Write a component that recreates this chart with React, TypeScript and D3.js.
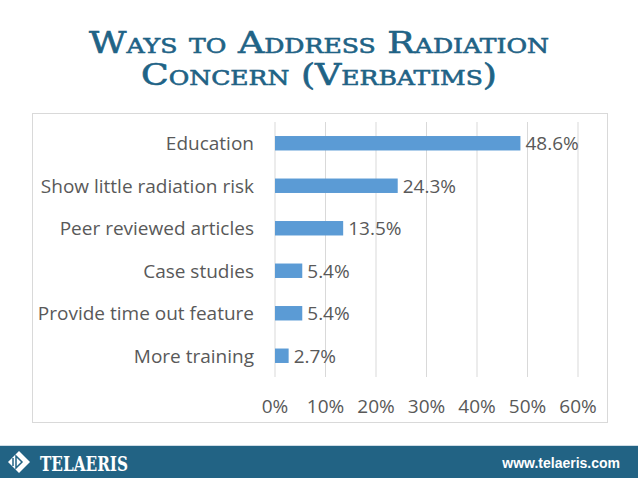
import React from "react";
import * as d3 from "d3";

const categories = [
  "Education",
  "Show little radiation risk",
  "Peer reviewed articles",
  "Case studies",
  "Provide time out feature",
  "More training",
];
const values = [48.6, 24.3, 13.5, 5.4, 5.4, 2.7];
const tickValues = [0, 10, 20, 30, 40, 50, 60];
const titleLines = ["Ways to Address Radiation", "Concern (Verbatims)"];

const W = 638;
const H = 478;

export default function App() {
  const x = d3.scaleLinear().domain([0, 60]).range([275, 578]);
  const y = d3.scaleBand<string>().domain(categories).range([122, 377]).paddingInner(0.66).paddingOuter(0.33);
  const font = "'Open Sans', sans-serif";
  const gray = "#595959";
  const fs = 19;
  return (
    <svg width={W} height={H} style={{ position: "absolute", left: 0, top: 0 }} xmlns="http://www.w3.org/2000/svg">
      <rect x={0} y={0} width={W} height={H} fill="#ffffff" />
      {titleLines.map((t, i) => (
        <text
          key={t}
          x={319}
          y={53 + i * 32}
          textAnchor="middle"
          fill="#1F6386"
          stroke="#1F6386"
          strokeWidth={0.6}
          fontFamily="'DejaVu Serif', serif"
          fontSize={29}
          style={{ fontVariant: "small-caps" }}
          textLength={i === 0 ? 460 : 356}
          lengthAdjust="spacingAndGlyphs"
        >
          {t}
        </text>
      ))}
      <rect x={32.5} y={113.5} width={575} height={309} fill="none" stroke="#D9D9D9" strokeWidth={1} />
      {tickValues.map((v) => (
        <line key={"g" + v} x1={x(v)} x2={x(v)} y1={122} y2={377} stroke="#D9D9D9" strokeWidth={1} />
      ))}
      {tickValues.map((v) => (
        <text key={"t" + v} x={x(v)} y={413} textAnchor="middle" fill={gray} fontFamily={font} fontSize={fs}>
          {v}%
        </text>
      ))}
      {categories.map((c, i) => {
        const yy = y(c)!;
        const bw = y.bandwidth();
        return (
          <g key={c}>
            <rect x={x(0)} y={yy} width={x(values[i]) - x(0)} height={bw} fill="#5B9BD5" />
            <text x={254} y={yy + bw / 2 + 7} textAnchor="end" fill={gray} fontFamily={font} fontSize={fs}>
              {c}
            </text>
            <text x={x(values[i]) + 5} y={yy + bw / 2 + 7} fill={gray} fontFamily={font} fontSize={fs}>
              {values[i].toFixed(1)}%
            </text>
          </g>
        );
      })}
      <rect x={0} y={445} width={W} height={33} fill="#226384" />
      <line x1={0} x2={W} y1={445.5} y2={445.5} stroke="#cfdde6" strokeWidth={1} />
      <g transform="translate(19,462)">
        <polygon points="0,-11 11,0 0,11 -11,0" fill="#ffffff" />
        <polygon points="-3,-6 3,0 -3,6" fill="none" stroke="#226384" strokeWidth={1.5} />
        <line x1={-6} y1={-4} x2={-6} y2={4} stroke="#226384" strokeWidth={1.5} />
      </g>
      <text x={40} y={471} fill="#ffffff" fontFamily="'DejaVu Serif', serif" fontWeight="bold" fontSize={20} textLength={88} lengthAdjust="spacingAndGlyphs">
        TELAERIS
      </text>
      <text x={620} y={468} textAnchor="end" fill="#ffffff" fontFamily="'Liberation Sans', Arial, sans-serif" fontWeight="bold" fontSize={14}>
        www.telaeris.com
      </text>
    </svg>
  );
}
